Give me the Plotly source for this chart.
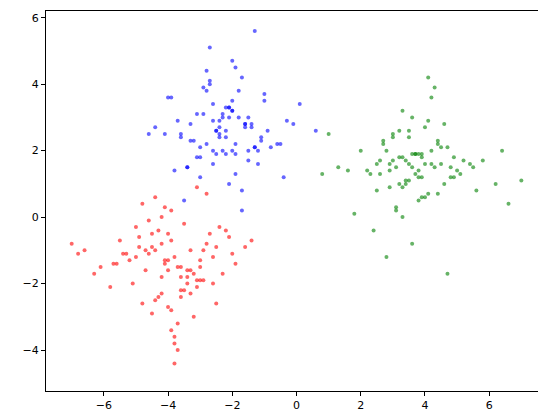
import plotly.graph_objects as go

# cluster points (approximate)
red_x = [-3.8,-4.5,-3.1,-2.9,-4.2,-5.0,-3.6,-4.8,-2.5,-3.9,-4.1,-3.3,-5.5,-3.0,-4.6,-3.7,-2.2,-4.0,-3.4,-5.2,
         -4.4,-3.2,-2.8,-3.9,-4.7,-6.1,-3.5,-4.3,-2.6,-3.8,-4.9,-3.1,-1.9,-4.2,-3.6,-5.3,-2.4,-4.0,-3.3,-4.5,
         -6.6,-3.7,-4.1,-2.7,-5.1,-3.4,-4.8,-3.0,-2.0,-4.4,-3.9,-5.7,-3.2,-4.6,-2.3,-3.5,-4.2,-5.0,-3.8,-2.9,
         -7.0,-4.0,-3.6,-1.6,-4.7,-3.1,-5.4,-2.6,-3.9,-4.3,-6.3,-3.3,-4.5,-2.1,-3.7,-5.8,-4.1,-3.0,-4.9,-2.5,
         -3.6,-4.4,-1.4,-3.8,-5.6,-4.2,-2.8,-3.4,-6.8,-4.0]
red_y = [-1.2,-0.5,-2.1,-1.0,-1.8,-0.3,-1.5,-2.6,-0.9,0.2,-1.4,-2.3,-0.7,-1.9,-1.1,-3.2,-0.4,-1.6,-2.0,-1.3,
         0.6,-1.7,-0.8,-2.8,-1.0,-1.5,-0.2,-2.4,-1.2,-3.6,-0.6,-1.9,-1.4,0.0,-2.2,-1.1,-0.3,-2.7,-1.6,-0.9,
         -1.0,-4.0,-1.3,-0.5,-2.0,-1.8,0.4,-1.5,-1.1,-2.5,-0.7,-1.4,-3.0,-0.1,-1.7,-2.2,-0.8,-1.2,-4.4,-1.9,
         -0.8,-1.3,-2.4,-0.9,-1.6,0.9,-1.1,-2.0,-3.4,-0.4,-1.7,-1.0,-2.9,-0.6,-1.5,-2.1,0.3,-1.3,-0.9,-2.6,
         -1.8,-1.0,-0.7,-3.8,-1.4,-2.3,0.7,-1.6,-1.1,-0.5]

blue_x = [-2.2,-2.9,-1.5,-3.3,-2.0,-1.1,-2.6,-3.7,-1.8,-2.4,-0.8,-2.1,-3.0,-1.4,-2.7,-4.1,-1.9,-2.3,-0.5,-2.8,
          -1.6,-3.4,-2.0,-1.2,-2.5,-3.9,-1.7,-2.2,-0.3,-3.1,-2.6,-1.3,-2.0,-3.6,-1.9,-2.4,-1.0,-2.8,-4.4,-1.5,
          -2.1,-3.2,-1.7,-2.5,-0.9,-2.3,-3.5,-1.4,-2.9,-2.0,-1.1,-3.8,-2.2,-1.6,-2.7,-0.6,-3.0,-1.8,-2.4,-4.0,
          -1.3,-2.6,-2.1,0.1,-3.3,-1.9,-2.5,-1.2,-3.1,-2.3,-1.6,-2.8,-0.4,-3.6,-2.0,-1.7,-2.4,-3.0,-1.0,-2.2,
          -4.6,-1.5,-2.7,-1.9,-0.1,-3.4,-2.1,-1.3,-2.6,0.6]
blue_y = [2.6,3.1,2.0,2.8,3.5,2.3,1.6,2.9,3.8,2.4,2.1,3.3,1.2,2.7,4.0,2.5,1.9,3.0,2.2,4.4,
          2.8,1.5,3.2,2.0,2.6,3.6,0.8,2.4,2.9,1.8,3.4,2.1,4.7,2.5,1.3,2.9,3.7,2.2,2.7,1.7,
          3.0,2.3,4.2,1.9,2.6,3.1,0.5,2.8,3.9,2.0,2.4,1.4,3.3,2.7,5.1,2.2,1.8,3.0,2.5,3.6,
          2.1,2.9,1.0,3.4,2.3,4.5,2.6,1.6,3.1,2.0,2.8,3.8,1.2,2.4,3.2,0.2,2.7,2.1,3.5,1.9,
          2.5,3.0,4.1,2.2,2.8,1.5,3.3,5.6,2.0,2.6]

green_x = [3.6,4.2,2.9,3.3,4.8,3.0,3.9,2.5,4.4,3.5,5.2,3.1,3.8,2.2,4.6,3.4,4.0,2.7,5.6,3.7,
           3.2,4.3,1.8,3.6,4.9,2.8,4.1,3.3,5.0,3.9,2.4,4.5,3.5,6.2,3.0,4.2,2.6,3.8,4.7,1.3,
           3.4,4.0,5.4,3.1,3.7,2.3,4.4,3.6,5.8,2.9,4.1,3.3,4.8,2.0,3.9,4.3,3.2,6.6,3.5,2.7,
           4.6,3.8,1.0,4.0,3.4,5.1,2.8,3.7,4.5,3.1,2.5,4.2,3.6,7.0,3.0,4.9,3.3,1.6,4.1,3.8,
           2.6,4.4,5.5,3.5,0.8,3.9,4.7,2.9,6.4,3.2]
green_y = [1.5,2.0,0.9,1.8,1.2,2.5,0.6,1.6,2.2,1.1,1.7,0.3,1.9,1.4,2.8,1.0,1.6,2.3,0.8,1.3,
           2.6,1.5,0.1,1.9,1.2,2.0,0.7,3.2,1.4,1.8,-0.4,1.6,2.4,1.0,1.7,3.6,1.3,0.5,2.1,1.5,
           1.1,2.7,1.6,0.2,1.9,1.3,2.3,-0.8,1.7,1.4,2.9,0.9,1.5,2.0,1.2,3.9,1.8,0.4,1.6,2.2,
           1.0,1.4,2.5,0.6,1.7,1.3,-1.2,1.9,2.1,1.5,0.8,1.6,3.0,1.1,2.4,1.8,0.0,1.4,4.2,1.2,
           1.7,0.7,1.5,2.6,1.3,1.9,-1.7,1.6,2.0,1.0]

fig = go.Figure()
for xs, ys, col in [(red_x, red_y, '#ff0000'), (blue_x, blue_y, '#0000ff'), (green_x, green_y, '#008000')]:
    fig.add_trace(go.Scatter(x=xs, y=ys, mode='markers',
                             marker=dict(color=col, size=4, opacity=0.6, line_width=0)))

axis = dict(showgrid=False, zeroline=False, showline=True, linecolor='black', linewidth=1,
            mirror=True, ticks='outside', ticklen=4, tickcolor='black', dtick=2)
fig.update_layout(
    width=546, height=413, showlegend=False,
    plot_bgcolor='white', paper_bgcolor='white',
    margin=dict(l=38, r=6, t=3, b=30),
    font=dict(family='DejaVu Sans', size=11, color='black'),
    xaxis=dict(axis, range=[-7.8, 7.83]),
    yaxis=dict(axis, range=[-5.23, 6.2]),
)
fig.write_html("out.html")
